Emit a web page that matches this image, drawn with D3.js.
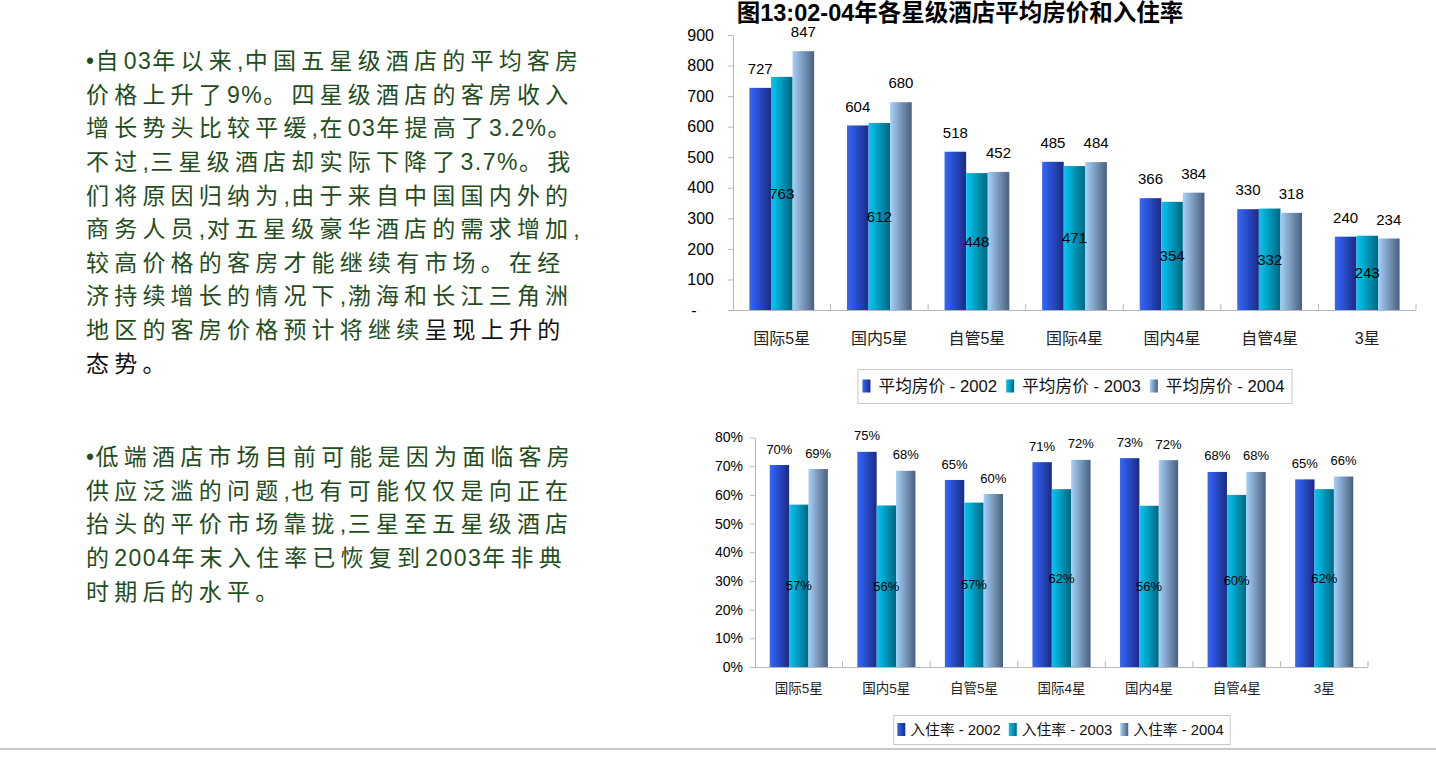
<!DOCTYPE html>
<html><head><meta charset="utf-8">
<script src="https://cdn.jsdelivr.net/npm/d3@7"></script>
<style>
body{margin:0;background:#fff;}
svg{display:block;font-family:"Liberation Sans",Arial,"Noto Sans CJK SC",sans-serif;}
</style>
</head><body>
<svg id="c" width="1436" height="762"></svg>
<script>
// ---------------- data ----------------
const categories = ["国际5星","国内5星","自管5星","国际4星","国内4星","自管4星","3星"];
const years = ["2002","2003","2004"];
const price2002 = [727,604,518,485,366,330,240];
const price2003 = [763,612,448,471,354,332,243];
const price2004 = [847,680,452,484,384,318,234];
const occ2002 = [0.704,0.750,0.652,0.714,0.728,0.680,0.654];
const occ2003 = [0.566,0.563,0.573,0.620,0.562,0.600,0.620];
const occ2004 = [0.690,0.684,0.603,0.722,0.721,0.680,0.664];
const priceTicks = [0,100,200,300,400,500,600,700,800,900];
const occTicks = [0,0.1,0.2,0.3,0.4,0.5,0.6,0.7,0.8];
const priceLegend = ["平均房价 - 2002","平均房价 - 2003","平均房价 - 2004"];
const occLegend = ["入住率 - 2002","入住率 - 2003","入住率 - 2004"];
const titleText = "图13:02-04年各星级酒店平均房价和入住率";
const para1 = [
  "•自03年以来,中国五星级酒店的平均客房",
  "价格上升了9%。四星级酒店的客房收入",
  "增长势头比较平缓,在03年提高了3.2%。",
  "不过,三星级酒店却实际下降了3.7%。我",
  "们将原因归纳为,由于来自中国国内外的",
  "商务人员,对五星级豪华酒店的需求增加,",
  "较高价格的客房才能继续有市场。在经",
  "济持续增长的情况下,渤海和长江三角洲",
  "地区的客房价格预计将继续|呈现上升的",
  "|态势。"
];
const para2 = [
  "•低端酒店市场目前可能是因为面临客房",
  "供应泛滥的问题,也有可能仅仅是向正在",
  "抬头的平价市场靠拢,三星至五星级酒店",
  "的2004年末入住率已恢复到2003年非典",
  "时期后的水平。"
];

// ---------------- setup ----------------
const svg = d3.select("#c");
const defs = svg.append("defs");
const gradStops = [["#3468ff","#1b2a82"],["#00c8f2","#006580"],["#a6d0f7","#4a5f7e"]];
gradStops.forEach((s,i)=>{
  const g = defs.append("linearGradient").attr("id","g"+i).attr("x1",0).attr("x2",1).attr("y1",0).attr("y2",0);
  g.append("stop").attr("offset","0%").attr("stop-color",s[0]);
  g.append("stop").attr("offset","100%").attr("stop-color",s[1]);
});

// title
svg.append("text").attr("x",960).attr("y",21).attr("text-anchor","middle")
  .attr("font-size",23.5).attr("font-weight","bold").attr("fill","#000").text(titleText);

function drawChart(cfg){
  const g = svg.append("g");
  const x = d3.scaleBand().domain(categories).range([cfg.left,cfg.right]);
  const xs = d3.scaleBand().domain(years).range([0,x.bandwidth()]).paddingOuter(0.76);
  const y = d3.scaleLinear().domain(cfg.domain).range([cfg.bottom,cfg.top]);
  const series = cfg.series;

  // y axis
  const ya = g.append("g").attr("transform",`translate(${cfg.left},0)`)
    .call(d3.axisLeft(y).tickValues(cfg.ticks).tickSize(5).tickSizeOuter(0)
      .tickPadding(cfg.yPad).tickFormat(cfg.yFmt));
  ya.select(".domain").attr("stroke","#b8b8b8");
  ya.selectAll(".tick line").attr("stroke","#b8b8b8");
  ya.selectAll(".tick text").attr("font-size",cfg.yFont).attr("fill","#000")
    .attr("font-family",'"Liberation Sans",Arial,sans-serif');
  if(cfg.zeroDash){
    ya.selectAll(".tick").filter(d=>d===0).select("text")
      .attr("text-anchor","middle").attr("x",-39);
  }

  // bars
  series.forEach((vals,si)=>{
    g.selectAll(null).data(vals).enter().append("rect")
      .attr("x",(d,i)=>x(categories[i])+xs(years[si]))
      .attr("width",xs.bandwidth())
      .attr("y",d=>y(d)).attr("height",d=>y(0)-y(d))
      .attr("fill",`url(#g${si})`);
  });

  // x axis line & boundary ticks
  g.append("line").attr("x1",cfg.left).attr("x2",cfg.right)
    .attr("y1",y(0)+0.5).attr("y2",y(0)+0.5).attr("stroke","#b8b8b8");
  const bounds = categories.map(c=>x(c)).slice(1).concat([cfg.right]);
  g.selectAll(null).data(bounds).enter().append("line")
    .attr("x1",d=>d).attr("x2",d=>d).attr("y1",y(0)-6).attr("y2",y(0))
    .attr("stroke","#b8b8b8");

  // category labels
  const xa = g.append("g").attr("transform",`translate(0,${y(0)})`)
    .call(d3.axisBottom(x).tickSize(0).tickPadding(cfg.xPad));
  xa.select(".domain").remove();
  xa.selectAll(".tick text").attr("font-size",cfg.xFont).attr("fill","#222")
    .attr("font-family",'"Liberation Sans",Arial,"Noto Sans CJK SC",sans-serif');

  // value labels
  series.forEach((vals,si)=>{
    g.selectAll(null).data(vals).enter().append("text")
      .attr("x",(d,i)=>x(categories[i])+xs(years[si])+xs.bandwidth()/2)
      .attr("y",d=> si===1 ? (y(0)+y(d))/2 : y(d)-cfg.labelGap)
      .attr("dy","0.35em").attr("text-anchor","middle")
      .attr("font-size",cfg.labelFont).attr("fill","#000")
      .text(d=>cfg.lblFmt(d));
  });

  // legend
  const lg = g.append("g");
  const box = lg.append("rect").attr("fill","#fff").attr("stroke","#c8c8c8");
  let cx = 0;
  cfg.legend.forEach((t,i)=>{
    const it = lg.append("g");
    it.append("rect").attr("x",cx).attr("y",-cfg.swH/2).attr("width",8).attr("height",cfg.swH)
      .attr("fill",`url(#g${i})`);
    const tx = it.append("text").attr("x",cx+cfg.swGap).attr("dy","0.35em")
      .attr("font-size",cfg.legFont).attr("fill","#111").text(t);
    cx = cx + cfg.swGap + tx.node().getComputedTextLength() + cfg.itemGap;
  });
  const innerW = cx - cfg.itemGap;
  const totalW = innerW + cfg.boxPadL + cfg.boxPadR;
  const bx = (cfg.left+cfg.right)/2 - totalW/2;
  lg.attr("transform",`translate(${bx+cfg.boxPadL},${cfg.legY})`);
  box.attr("x",-cfg.boxPadL+0.5).attr("y",-cfg.legH/2+0.5).attr("width",totalW).attr("height",cfg.legH);
}

drawChart({
  left:733,right:1416,top:35,bottom:310,domain:[0,900],ticks:priceTicks,
  series:[price2002,price2003,price2004],
  yFmt:d=>d===0?"-":d3.format("d")(d), zeroDash:true, yPad:14, yFont:16,
  xPad:23, xFont:16, labelFont:15, labelGap:19, lblFmt:d3.format("d"),
  legend:priceLegend, legY:386, legH:34, swH:13, swGap:16, itemGap:9, legFont:16.7,
  boxPadL:5, boxPadR:7
});
drawChart({
  left:755,right:1368,top:437.5,bottom:667,domain:[0,0.8],ticks:occTicks,
  series:[occ2002,occ2003,occ2004],
  yFmt:d3.format(".0%"), zeroDash:false, yPad:7, yFont:14,
  xPad:16, xFont:13.5, labelFont:13, labelGap:16, lblFmt:d3.format(".0%"),
  legend:occLegend, legY:729.5, legH:29, swH:13, swGap:13, itemGap:8, legFont:14.8,
  boxPadL:4, boxPadR:6
});

// separator line at bottom
svg.append("line").attr("x1",0).attr("x2",1436).attr("y1",749).attr("y2",749)
  .attr("stroke","#c8c8c8").attr("stroke-width",2);

// left text paragraphs
function drawPara(lines, y0){
  lines.forEach((ln,i)=>{
    const t = svg.append("text").attr("x",86).attr("y",y0+i*33.6)
      .attr("font-size",23).attr("dy","0.36em")
      .attr("font-family",'"Liberation Sans",Arial,"Noto Sans CJK SC",sans-serif');
    const parts = ln.split("|");
    parts.forEach((p,pi)=>{
      const color = pi===0 ? "#1f4d1c" : "#111";
      const runs = p.match(/[\x00-\x7F•]+|[^\x00-\x7F•]+/g) || [];
      runs.forEach(r=>{
        const ascii = /^[\x00-\x7F•]+$/.test(r);
        t.append("tspan").attr("fill",color)
          .attr("letter-spacing", ascii ? 1.5 : 5.2).text(r);
      });
    });
  });
}
drawPara(para1, 61);
drawPara(para2, 457);
</script>
</body></html>
